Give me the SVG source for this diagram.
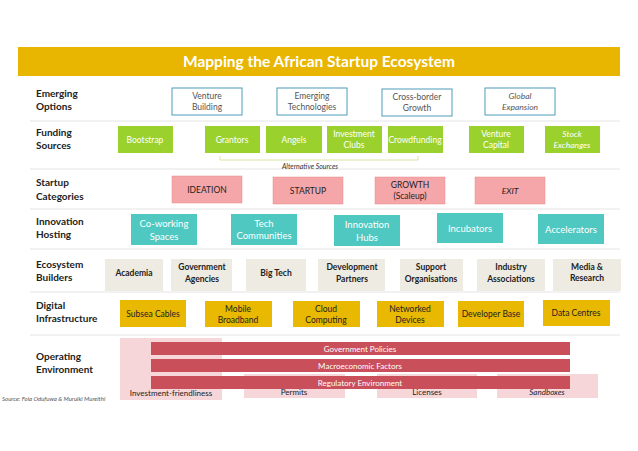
<svg xmlns="http://www.w3.org/2000/svg" width="638" height="451" viewBox="0 0 638 451">
<style>
text{font-family:Lato,"Liberation Sans",sans-serif;font-size:8.5px;text-anchor:middle;fill:#555}
.lab{font-weight:bold;text-anchor:start;fill:#222;font-size:10px}
.sep{stroke:#e4e4e4;stroke-width:1}
.eo{fill:#fff;stroke:#4f9cb8;stroke-width:1}
.fs{fill:#9bd12c}
.sc{fill:#f5a6a8;stroke:#e98a8e;stroke-width:.5}
.ih{fill:#4ec8c1}
.eb{fill:#edebe2}
.di{fill:#e9b800}
.oe{fill:#f7d6da}
.bar{fill:#c94f5b}
.w{fill:#fff}
.d{fill:#222}
.it{font-style:italic}
.b{font-weight:bold}
.m{font-size:9.5px}
.s{font-size:8px}
</style>
<rect width="638" height="451" fill="#fff"/>
<g id="title"><rect x="18" y="47" width="602" height="29" fill="#e8b600"/><text x="319" y="67" class="w" style="font-size:15.5px;font-weight:bold">Mapping the African Startup Ecosystem</text></g>
<g id="separators">
<line class="sep" x1="30" y1="121" x2="620" y2="121"/><line class="sep" x1="30" y1="169" x2="620" y2="169"/><line class="sep" x1="30" y1="209" x2="620" y2="209"/><line class="sep" x1="30" y1="249" x2="620" y2="249"/><line class="sep" x1="30" y1="292" x2="620" y2="292"/><line class="sep" x1="30" y1="335" x2="620" y2="335"/>
</g>
<g id="labels">
<text class="lab" x="36" y="97">Emerging</text><text class="lab" x="36" y="110">Options</text>
<text class="lab" x="36" y="136">Funding</text><text class="lab" x="36" y="149">Sources</text>
<text class="lab" x="36" y="186">Startup</text><text class="lab" x="36" y="200">Categories</text>
<text class="lab" x="36" y="225">Innovation</text><text class="lab" x="36" y="238">Hosting</text>
<text class="lab" x="36" y="268">Ecosystem</text><text class="lab" x="36" y="281">Builders</text>
<text class="lab" x="36" y="309">Digital</text><text class="lab" x="36" y="322">Infrastructure</text>
<text class="lab" x="36" y="360">Operating</text><text class="lab" x="36" y="373">Environment</text>
</g>
<g id="emerging">
<rect class="eo" x="172" y="88" width="70" height="27"/><text x="207" y="99">Venture</text><text x="207" y="110">Building</text>
<rect class="eo" x="277" y="88" width="70" height="27"/><text x="312" y="99">Emerging</text><text x="312" y="110">Technologies</text>
<rect class="eo" x="382" y="89" width="70" height="27"/><text x="417" y="100">Cross-border</text><text x="417" y="111">Growth</text>
<rect class="eo" x="485" y="88" width="70" height="27"/><text class="it" x="520" y="99">Global</text><text class="it" x="520" y="110">Expansion</text>
</g>
<g id="funding">
<rect class="fs" x="118" y="126" width="55" height="27"/><text class="w" x="145" y="143">Bootstrap</text>
<rect class="fs" x="205" y="126" width="55" height="27"/><text class="w" x="232" y="143">Grantors</text>
<rect class="fs" x="266" y="126" width="56" height="27"/><text class="w" x="294" y="143">Angels</text>
<rect class="fs" x="327" y="126" width="55" height="27"/><text class="w" x="354" y="137">Investment</text><text class="w" x="354" y="148">Clubs</text>
<rect class="fs" x="388" y="126" width="55" height="27"/><text class="w" x="415" y="143">Crowdfunding</text>
<rect class="fs" x="469" y="126" width="55" height="27"/><text class="w" x="496" y="137">Venture</text><text class="w" x="496" y="148">Capital</text>
<rect class="fs" x="545" y="126" width="55" height="27"/><text class="w it" x="572" y="137">Stock</text><text class="w it" x="572" y="148">Exchanges</text>
</g>
<g id="connectors"><path d="M220 156v4h198v-4" fill="none" stroke="#d8e6a0" stroke-width="1"/></g>
<text class="it" x="310" y="169" style="font-size:7px;fill:#333">Alternative Sources</text>
<g id="categories">
<rect class="sc" x="172" y="176" width="70" height="27"/><text class="d" x="207" y="193">IDEATION</text>
<rect class="sc" x="273" y="177" width="70" height="27"/><text class="d" x="308" y="194">STARTUP</text>
<rect class="sc" x="375" y="177" width="70" height="27"/><text class="d" x="410" y="188">GROWTH</text><text class="d" x="410" y="199">(Scaleup)</text>
<rect class="sc" x="475" y="177" width="70" height="27"/><text class="d it" x="510" y="194">EXIT</text>
</g>
<g id="hosting">
<rect class="ih" x="131" y="214" width="66" height="31"/><text class="w m" x="164" y="227">Co-working</text><text class="w m" x="164" y="240">Spaces</text>
<rect class="ih" x="231" y="214" width="66" height="31"/><text class="w m" x="264" y="227">Tech</text><text class="w m" x="264" y="239">Communities</text>
<rect class="ih" x="334" y="215" width="66" height="31"/><text class="w m" x="367" y="228">Innovation</text><text class="w m" x="367" y="241">Hubs</text>
<rect class="ih" x="437" y="213" width="66" height="30"/><text class="w m" x="470" y="232">Incubators</text>
<rect class="ih" x="538" y="214" width="66" height="30"/><text class="w m" x="571" y="233">Accelerators</text>
</g>
<g id="builders">
<rect class="eb" x="105" y="259" width="58" height="32"/><text class="d b" x="134" y="276">Academia</text>
<rect class="eb" x="171" y="259" width="61" height="32"/><text class="d b" x="202" y="270">Government</text><text class="d b" x="202" y="282">Agencies</text>
<rect class="eb" x="246" y="259" width="60" height="32"/><text class="d b" x="276" y="276">Big Tech</text>
<rect class="eb" x="318" y="259" width="67" height="32"/><text class="d b" x="352" y="270">Development</text><text class="d b" x="352" y="282">Partners</text>
<rect class="eb" x="400" y="259" width="63" height="32"/><text class="d b" x="431" y="270">Support</text><text class="d b" x="431" y="282">Organisations</text>
<rect class="eb" x="477" y="259" width="68" height="32"/><text class="d b" x="511" y="270">Industry</text><text class="d b" x="511" y="282">Associations</text>
<rect class="eb" x="553" y="259" width="68" height="32"/><text class="d b" x="587" y="270">Media &amp;</text><text class="d b" x="587" y="281">Research</text>
</g>
<g id="digital">
<rect class="di" x="120" y="300" width="66" height="27"/><text class="d" x="153" y="317">Subsea Cables</text>
<rect class="di" x="205" y="301" width="67" height="26"/><text class="d" x="238" y="312">Mobile</text><text class="d" x="238" y="323">Broadband</text>
<rect class="di" x="293" y="301" width="67" height="26"/><text class="d" x="326" y="312">Cloud</text><text class="d" x="326" y="323">Computing</text>
<rect class="di" x="377" y="301" width="67" height="26"/><text class="d" x="410" y="312">Networked</text><text class="d" x="410" y="323">Devices</text>
<rect class="di" x="458" y="301" width="66" height="26"/><text class="d" x="491" y="317">Developer Base</text>
<rect class="di" x="543" y="300" width="67" height="26"/><text class="d" x="576" y="316">Data Centres</text>
</g>
<g id="operating">
<rect class="oe" x="120" y="338" width="102" height="62"/><text class="d s" x="171" y="396">Investment-friendliness</text>
<rect class="oe" x="244" y="374" width="101" height="24"/><text class="d s" x="294" y="395">Permits</text>
<rect class="oe" x="377" y="374" width="100" height="24"/><text class="d s" x="427" y="395">Licenses</text>
<rect class="oe" x="497" y="374" width="101" height="24"/><text class="d it s" x="547" y="395">Sandboxes</text>
<rect class="bar" x="151" y="342" width="419" height="13"/><text class="w s" x="360" y="352">Government Policies</text>
<rect class="bar" x="151" y="359" width="419" height="13"/><text class="w s" x="360" y="369">Macroeconomic Factors</text>
<rect class="bar" x="151" y="376" width="419" height="13"/><text class="w s" x="360" y="386">Regulatory Environment</text>
</g>
<text class="it" x="2" y="401" style="font-size:6px;text-anchor:start">Source: Fola Odufuwa &amp; Muruiki Mureithi</text>
</svg>
